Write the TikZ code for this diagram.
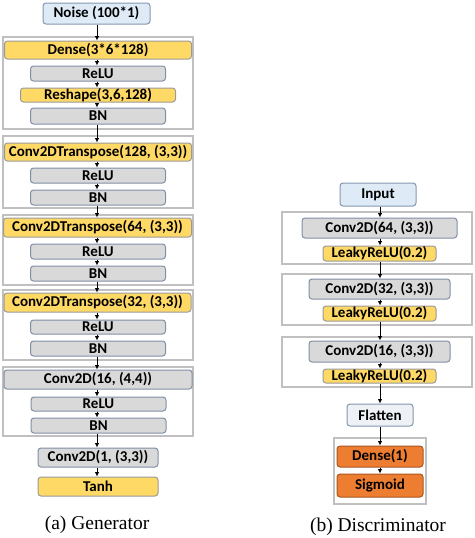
\documentclass[tikz,border=0pt]{standalone}
\usepackage{fontspec}
\usetikzlibrary{arrows.meta}
\newfontfamily\lblfont{Carlito}
\newfontfamily\capfontfam{Liberation Serif}
\definecolor{blfill}{HTML}{DEEBF7}
\definecolor{bldraw}{HTML}{8497B0}
\definecolor{gyfill}{HTML}{D9D9D9}
\definecolor{gydraw}{HTML}{7F8FA6}
\definecolor{ylfill}{HTML}{FFD966}
\definecolor{yldraw}{HTML}{9A9A9A}
\definecolor{orfill}{HTML}{ED7D31}
\definecolor{ordraw}{HTML}{A9561E}
\definecolor{flfill}{HTML}{EEF2F7}
\definecolor{frcol}{HTML}{C0C0C0}
\tikzset{
  box/.style={rounded corners=3pt, line width=1pt, inner sep=0pt,
    font=\lblfont\bfseries\fontsize{15}{15}\selectfont, text=black},
  bluebox/.style={box, fill=blfill, draw=bldraw},
  graybox/.style={box, fill=gyfill, draw=gydraw},
  yellowbox/.style={box, fill=ylfill, draw=yldraw},
  orangebox/.style={box, fill=orfill, draw=ordraw},
  flatbox/.style={box, fill=flfill, draw=bldraw},
  frame/.style={draw=frcol, line width=1.6pt},
  arr/.style={-{Latex[length=4.5pt,width=4.5pt]}, line width=0.8pt, black},
  caption/.style={font=\capfontfam\fontsize{19.5}{20}\selectfont}
}
\begin{document}
\begin{tikzpicture}[x=1pt,y=-1pt]
\useasboundingbox (0,0) rectangle (474,538);
% ---------- Generator ----------
\draw[frame] (3,37) rectangle (193,129);
\draw[frame] (3,136) rectangle (193,208);
\draw[frame] (3,215) rectangle (193,285);
\draw[frame] (3,290) rectangle (193,360);
\draw[frame] (3,367) rectangle (193,436);

\node[bluebox, minimum width=107pt, minimum height=21pt] (noise) at (96.5,13.5) {Noise (100*1)};
\node[yellowbox, minimum width=187pt, minimum height=18pt] (dense) at (98,50) {Dense(3*6*128)};
\node[graybox, minimum width=135pt, minimum height=15pt] (relu1) at (98,73.5) {ReLU};
\node[yellowbox, minimum width=155pt, minimum height=14pt] (reshape) at (98,95) {Reshape(3,6,128)};
\node[graybox, minimum width=135pt, minimum height=16pt] (bn1) at (98,116) {BN};

\node[yellowbox, minimum width=187pt, minimum height=18pt] (ct128) at (98,152) {Conv2DTranspose(128, (3,3))};
\node[graybox, minimum width=135pt, minimum height=15pt] (relu2) at (98,175.5) {ReLU};
\node[graybox, minimum width=135pt, minimum height=15pt] (bn2) at (98,197.5) {BN};

\node[yellowbox, minimum width=188pt, minimum height=19pt] (ct64) at (97.5,227.5) {Conv2DTranspose(64, (3,3))};
\node[graybox, minimum width=135pt, minimum height=15pt] (relu3) at (98,251.5) {ReLU};
\node[graybox, minimum width=135pt, minimum height=15pt] (bn3) at (98,273.5) {BN};

\node[yellowbox, minimum width=187pt, minimum height=19pt] (ct32) at (97.5,302.5) {Conv2DTranspose(32, (3,3))};
\node[graybox, minimum width=135pt, minimum height=14pt] (relu4) at (98,327) {ReLU};
\node[graybox, minimum width=135pt, minimum height=15pt] (bn4) at (98,348.5) {BN};

\node[graybox, minimum width=188pt, minimum height=19pt] (c16) at (98,379.5) {Conv2D(16, (4,4))};
\node[graybox, minimum width=135pt, minimum height=14pt] (relu5) at (98.5,404) {ReLU};
\node[graybox, minimum width=135pt, minimum height=15pt] (bn5) at (98.5,425.5) {BN};

\node[graybox, minimum width=120pt, minimum height=19pt] (c1) at (98,457.5) {Conv2D(1, (3,3))};
\node[yellowbox, minimum width=120pt, minimum height=19pt] (tanh) at (98,486.5) {Tanh};

\node[caption] (capa) at (97,525) {(a)\ Generator};

\foreach \a/\b in {noise/dense, dense/relu1, relu1/reshape, reshape/bn1, bn1/ct128,
  ct128/relu2, relu2/bn2, bn2/ct64, ct64/relu3, relu3/bn3, bn3/ct32,
  ct32/relu4, relu4/bn4, bn4/c16, c16/relu5, relu5/bn5, bn5/c1, c1/tanh}
  \draw[arr] (\a.south -| 97,0) -- (\b.north -| 97,0);

% ---------- Discriminator ----------
\draw[frame] (282,212) rectangle (472,264);
\draw[frame] (282,274) rectangle (472,325);
\draw[frame] (282,337) rectangle (472,387);
\draw[frame] (334,438) rectangle (426,504);

\node[bluebox, minimum width=76pt, minimum height=23pt] (input) at (378,194.5) {Input};
\node[graybox, minimum width=155pt, minimum height=20pt] (d64) at (379.5,228) {Conv2D(64, (3,3))};
\node[yellowbox, minimum width=113pt, minimum height=15pt] (lr1) at (379.5,253.5) {LeakyReLU(0.2)};
\node[graybox, minimum width=141pt, minimum height=20pt] (d32) at (379.5,289) {Conv2D(32, (3,3))};
\node[yellowbox, minimum width=113pt, minimum height=15pt] (lr2) at (379.5,313.5) {LeakyReLU(0.2)};
\node[graybox, minimum width=141pt, minimum height=21pt] (d16) at (379.5,351.5) {Conv2D(16, (3,3))};
\node[yellowbox, minimum width=113pt, minimum height=14pt] (lr3) at (379.5,376) {LeakyReLU(0.2)};
\node[flatbox, minimum width=66pt, minimum height=22pt] (flat) at (380,415) {Flatten};
\node[orangebox, minimum width=86pt, minimum height=21pt] (dn1) at (380,456.5) {Dense(1)};
\node[orangebox, minimum width=86pt, minimum height=23pt] (sig) at (380,485.5) {Sigmoid};

\node[caption] (capb) at (378,527) {(b)\ Discriminator};

\foreach \a/\b in {input/d64, d64/lr1, lr1/d32, d32/lr2, lr2/d16, d16/lr3,
  lr3/flat, flat/dn1, dn1/sig}
  \draw[arr] (\a.south -| 380,0) -- (\b.north -| 380,0);
\end{tikzpicture}
\end{document}
